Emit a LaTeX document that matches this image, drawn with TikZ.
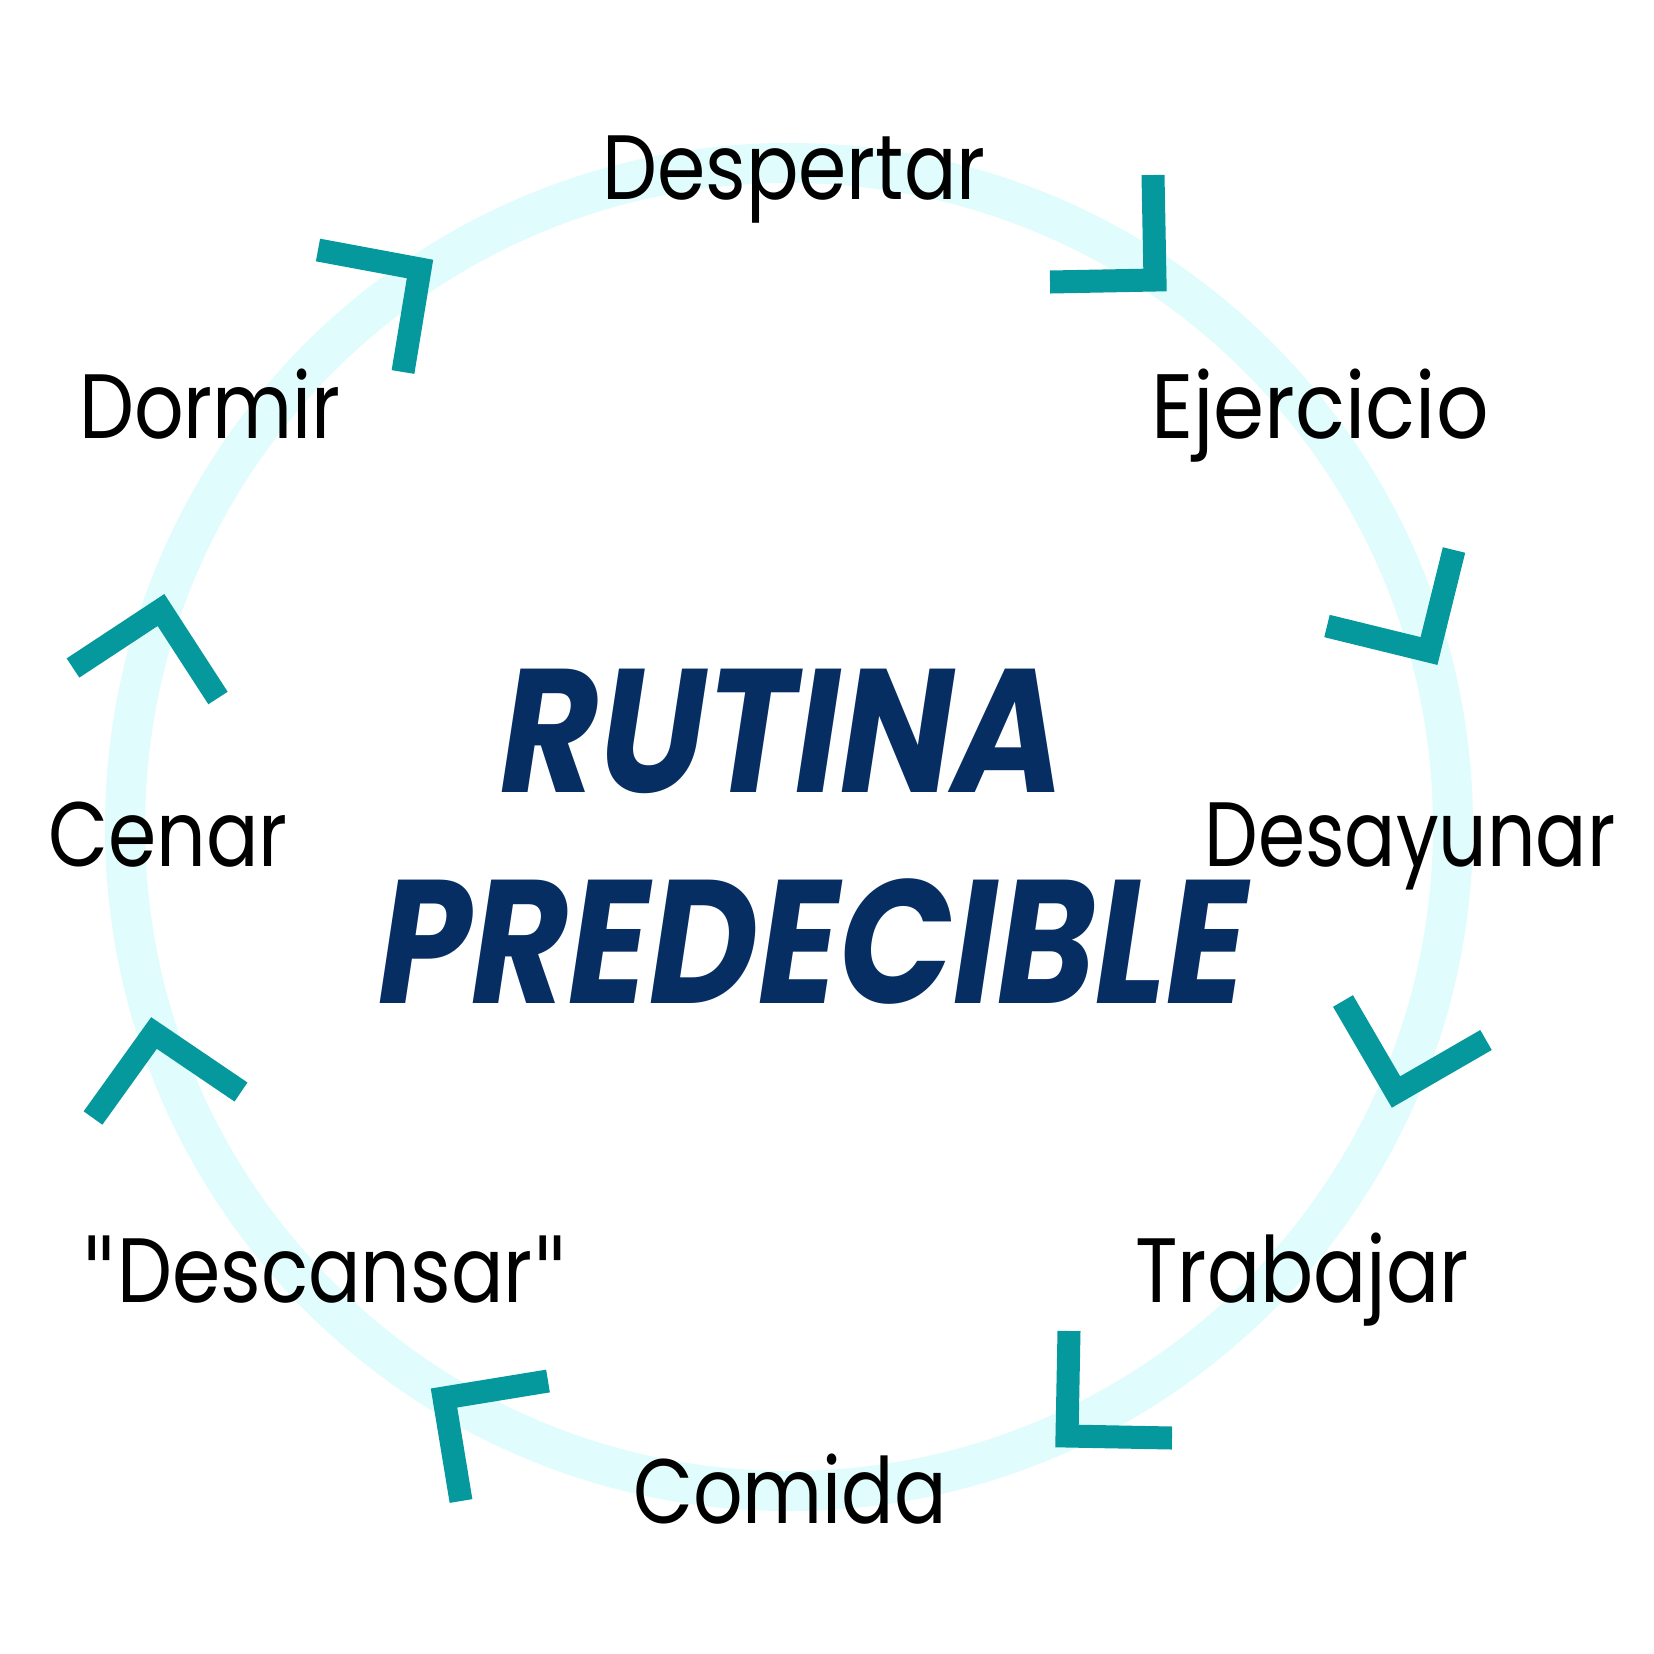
\documentclass[tikz,border=0pt]{standalone}
\usepackage{fontspec}
\usepackage{graphicx}
\setmainfont{Poppins}
\newfontfamily\quotefont{DejaVu Sans}
\definecolor{RingCyan}{HTML}{E0FCFC}
\definecolor{ArrowTeal}{HTML}{05999E}
\definecolor{TitleNavy}{HTML}{072E63}
\newcommand{\narrow}[2]{\scalebox{#1}[1]{#2}}
\newcommand{\dq}{{\quotefont\char"22}}

\begin{document}
\begin{tikzpicture}[x=0.01cm, y=-0.01cm,
    actividad/.style={font=\fontsize{26}{30}\selectfont, text=black,
                      inner sep=0pt, anchor=base},
    titulo/.style={font=\fontsize{50}{56}\selectfont\bfseries\itshape,
                   text=TitleNavy, inner sep=0pt},
    chevron/.style={draw=ArrowTeal, line width=0.23cm, miter limit=4}]
\useasboundingbox[fill=white] (0,0) rectangle (1654,1654);

% the ring
\draw[RingCyan, line width=0.4cm] (789,827) circle (664);

% arrow heads, clockwise from the top: tip, corner, tip
\foreach \ax/\ay/\cx/\cy/\bx/\by in {
    1153/175/1155/280/1050/282,
    1454/550/1429/651/1327/626,
    1343/1001/1396/1092/1486/1040,
    1069/1331/1067/1436/1172/1438,
    548/1381/444/1398/461/1501,
    241/1092/154/1033/93/1118,
    218/698/161/610/73/668,
    318/250/420/269/403/372}
  \draw[chevron] (\ax,\ay) -- (\cx,\cy) -- (\bx,\by);

% steps of the day
\node[actividad] (despertar) at (794,199) {\narrow{0.85}{Despertar}};
\node[actividad] (ejercicio) at (1320,438) {\narrow{0.9}{Ejercicio}};
\node[actividad] (desayunar) at (1410,866) {\narrow{0.83}{Desayunar}};
\node[actividad] (trabajar) at (1302,1302) {\narrow{0.86}{Trabajar}};
\node[actividad] (comida) at (790,1523) {\narrow{0.85}{Comida}};
\node[actividad] (descansar) at (325,1302) {\narrow{0.85}{\dq Descansar\dq}};
\node[actividad] (cenar) at (168,866) {\narrow{0.85}{Cenar}};
\node[actividad] (dormir) at (210,438) {\narrow{0.85}{Dormir}};

% title
\node[titulo] (rutina) at (783,731) {\narrow{0.86}{RUTINA}};
\node[titulo] (predecible) at (813,942) {\narrow{0.85}{PREDECIBLE}};
\end{tikzpicture}
\end{document}
